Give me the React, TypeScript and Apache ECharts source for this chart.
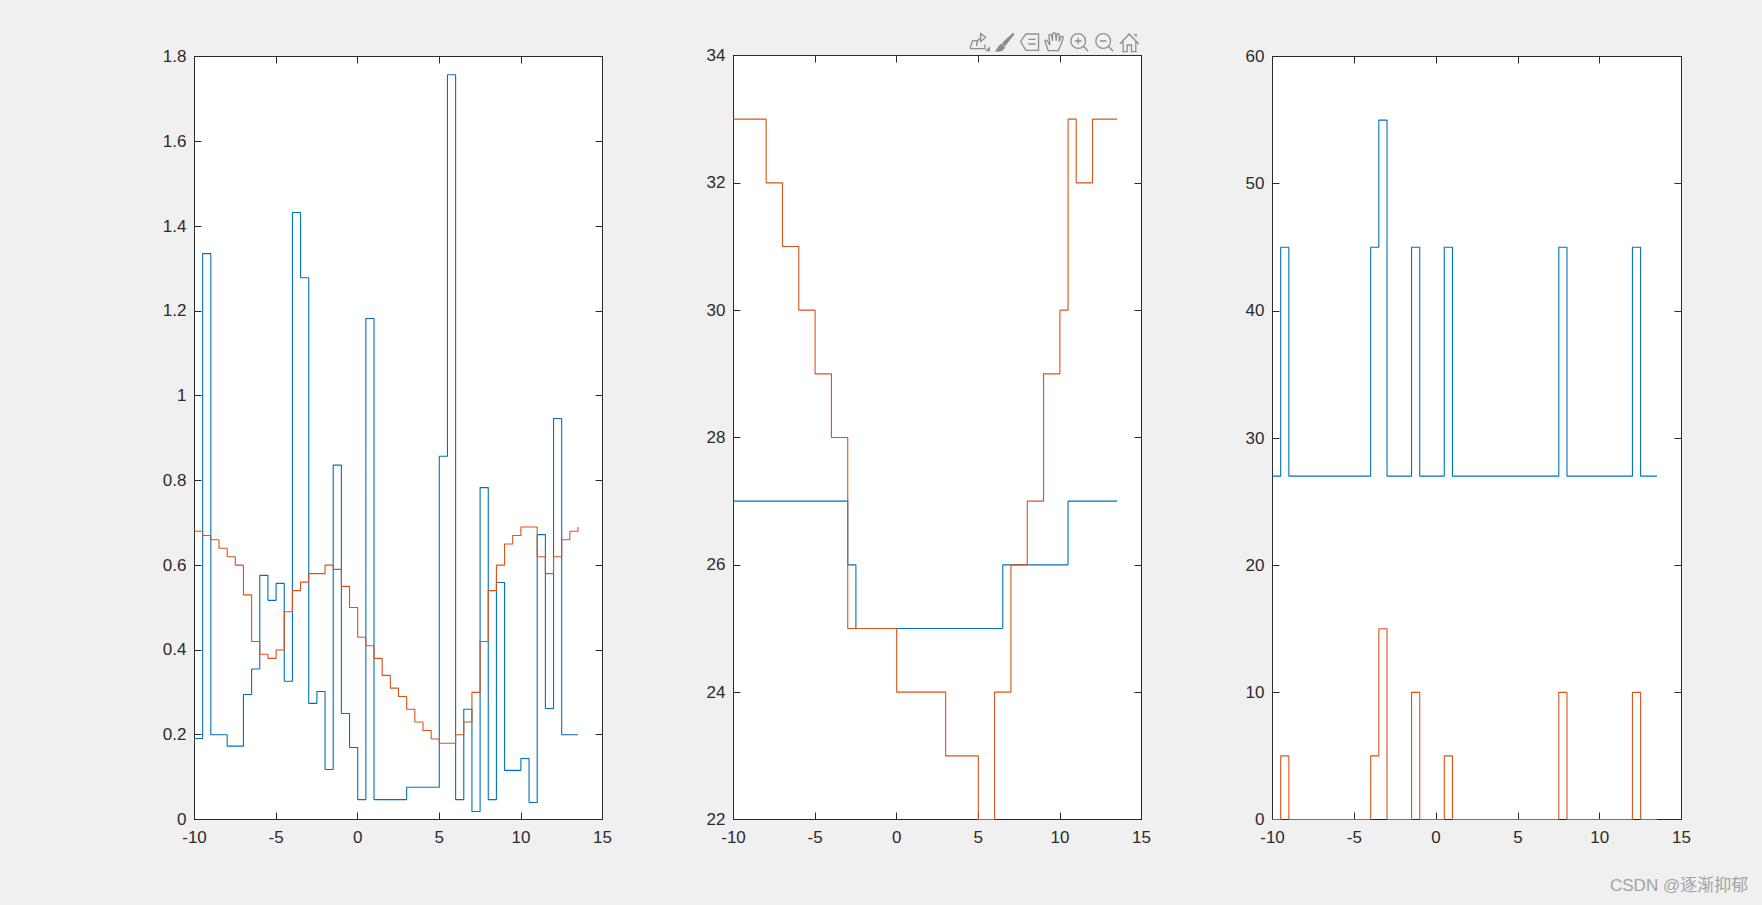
import React, { useEffect, useRef } from "react";
import * as echarts from "echarts";

const xs = [-10,-9.5,-9,-8.5,-8,-7.5,-7,-6.5,-6,-5.5,-5,-4.5,-4,-3.5,-3,-2.5,-2,-1.5,-1,-0.5,0,0.5,1,1.5,2,2.5,3,3.5,4,4.5,5,5.5,6,6.5,7,7.5,8,8.5,9,9.5,10,10.5,11,11.5,12,12.5,13,13.5];

const leftBlue = [0.191,1.335,0.2,0.2,0.173,0.173,0.295,0.355,0.576,0.517,0.557,0.326,1.432,1.278,0.274,0.302,0.118,0.836,0.25,0.17,0.047,1.182,0.047,0.047,0.047,0.047,0.076,0.076,0.076,0.076,0.857,1.757,0.047,0.26,0.019,0.783,0.047,0.559,0.116,0.116,0.144,0.04,0.672,0.262,0.946,0.2,0.2,0.2];
const leftRed = [0.68,0.67,0.66,0.64,0.62,0.6,0.53,0.42,0.39,0.38,0.4,0.49,0.54,0.56,0.58,0.58,0.6,0.59,0.55,0.5,0.43,0.41,0.38,0.34,0.31,0.29,0.26,0.23,0.21,0.19,0.18,0.18,0.2,0.23,0.3,0.42,0.54,0.6,0.65,0.67,0.69,0.69,0.62,0.58,0.62,0.66,0.68,0.69];
const midBlue = [27,27,27,27,27,27,27,27,27,27,27,27,27,27,26,25,25,25,25,25,25,25,25,25,25,25,25,25,25,25,25,25,25,26,26,26,26,26,26,26,26,27,27,27,27,27,27,27];
const midRed = [33,33,33,33,32,32,31,31,30,30,29,29,28,28,25,25,25,25,25,25,24,24,24,24,24,24,23,23,23,23,22,22,24,24,26,26,27,27,29,29,30,33,32,32,33,33,33,33];
const rightBlue = [27,45,27,27,27,27,27,27,27,27,27,27,45,55,27,27,27,45,27,27,27,45,27,27,27,27,27,27,27,27,27,27,27,27,27,45,27,27,27,27,27,27,27,27,45,27,27,27];
const rightRed = [0,5,0,0,0,0,0,0,0,0,0,0,5,15,0,0,0,10,0,0,0,5,0,0,0,0,0,0,0,0,0,0,0,0,0,10,0,0,0,0,0,0,0,0,10,0,0,0];

const watermark = "CSDN @逐渐抑郁";
const ink = "#2b2b2b";
const blue = "#0072BD";
const red = "#D95319";
const fontFamily = "Liberation Sans, Arial, sans-serif";

const panels = [
  { left: 194.5, width: 408, top: 56.5, height: 763, yMin: 0, yMax: 1.8, yStep: 0.2, a: leftBlue, b: leftRed },
  { left: 733.5, width: 408, top: 55.5, height: 764, yMin: 22, yMax: 34, yStep: 2, a: midBlue, b: midRed },
  { left: 1272.5, width: 409, top: 56.5, height: 763, yMin: 0, yMax: 60, yStep: 10, a: rightBlue, b: rightRed },
];

const toolIcons: [string, string, boolean][] = [
  ["tbExport", "M90 86 L98 62 L112 62 M90 86 L136 86 L134 74 M110 78 C110 65 115 56 124 54 M122 41 L137 52 L122 65 Z M140 92 L148 92 L148 84 Z", false],
  ["tbBrush", "M219 39 L223 43 L195 79 L186 70 Z M185 72 C175 74 176 85 165 93 C180 97 195 91 194 80 Z", true],
  ["tbLegend", "M296 42 L258 42 L242 65 L258 91 L296 91 Z M265 58 L287 58 M265 72 L287 72", false],
  ["tbHand", "M325 92 L355 92 L365 70 L370 52 C370 47 363 47 362 52 L358 65 L358 45 C358 40 350 40 350 45 L349 62 L347 42 C346 37 339 37 338 42 L338 63 L335 47 C334 42 327 42 327 48 L330 75 L322 63 C318 58 313 62 316 67 Z", false],
  ["tbZoomIn", "M393 63 A22 22 0 1 1 437 63 A22 22 0 1 1 393 63 Z M431 79 L445 94 M405 63 L425 63 M415 53 L415 73", false],
  ["tbZoomOut", "M468 63 A22 22 0 1 1 512 63 A22 22 0 1 1 468 63 Z M506 79 L520 94 M480 63 L500 63", false],
  ["tbHome", "M540 72 L568 42 L597 72 M550 65 L550 95 L562 95 L562 75 L575 75 L575 95 L588 95 L588 65 M583 44 L589 44 L589 50", false],
];
toolIcons.forEach(([name, d]) => {
  echarts.graphic.registerShape(name, echarts.graphic.extendPath(d, {}) as any);
});

const pts = (ys: number[]) => xs.map((x, i) => [x, ys[i]]);

export default function App() {
  const ref = useRef<HTMLDivElement>(null);
  useEffect(() => {
    document.body.style.margin = "0";
    document.body.style.background = "#f0f0f0";
    document.body.style.overflow = "hidden";
    const chart = echarts.init(ref.current!, undefined, { renderer: "svg" });
    const grid: any[] = [];
    const xAxis: any[] = [];
    const yAxis: any[] = [];
    const series: any[] = [];
    panels.forEach((p, i) => {
      grid.push({ left: p.left, top: p.top, width: p.width, height: p.height, show: true, backgroundColor: "#fff", borderWidth: 0 });
      [false, true].forEach((second) => {
        xAxis.push({
          type: "value", gridIndex: i, min: -10, max: 15, interval: 5,
          position: second ? "top" : "bottom",
          splitLine: { show: false },
          axisLine: { show: true, onZero: false, lineStyle: { color: ink, width: 1 } },
          axisTick: { show: true, inside: true, length: 7, lineStyle: { color: ink, width: 1 } },
          axisLabel: { show: !second, color: ink, fontSize: 17, fontFamily, margin: 9 },
        });
        yAxis.push({
          type: "value", gridIndex: i, min: p.yMin, max: p.yMax, interval: p.yStep,
          position: second ? "right" : "left",
          splitLine: { show: false },
          axisLine: { show: true, onZero: false, lineStyle: { color: ink, width: 1 } },
          axisTick: { show: true, inside: true, length: 7, lineStyle: { color: ink, width: 1 } },
          axisLabel: {
            show: !second, color: ink, fontSize: 17, fontFamily, margin: 8,
            formatter: (v: number) => String(Math.round(v * 10) / 10),
          },
        });
      });
      [[p.a, blue], [p.b, red]].forEach(([ys, color]: any) => {
        series.push({
          type: "line", xAxisIndex: i * 2, yAxisIndex: i * 2, data: pts(ys),
          step: "end", symbol: "none", clip: false,
          lineStyle: { color, width: 1.1 }, silent: true,
        });
      });
    });
    chart.setOption({
      animation: false,
      backgroundColor: "#f0f0f0",
      grid, xAxis, yAxis, series,
      graphic: [
        ...toolIcons.map(([name, , filled]) => ({
          type: name, x: 940, y: 20, scaleX: 1 / 3, scaleY: 1 / 3,
          style: filled
            ? { fill: "#8c8c8c", stroke: "#8c8c8c", lineWidth: 1 }
            : { fill: "none", stroke: "#8f8f8f", lineWidth: 4 },
        })),
        { type: "text", x: 1610, y: 877, style: { text: watermark, fill: "#a3a3a3", font: "17px 'Liberation Sans','Noto Sans CJK SC',sans-serif" } },
      ],
    });
    return () => chart.dispose();
  }, []);
  return <div ref={ref} style={{ width: 1762, height: 905, display: "block" }} />;
}
